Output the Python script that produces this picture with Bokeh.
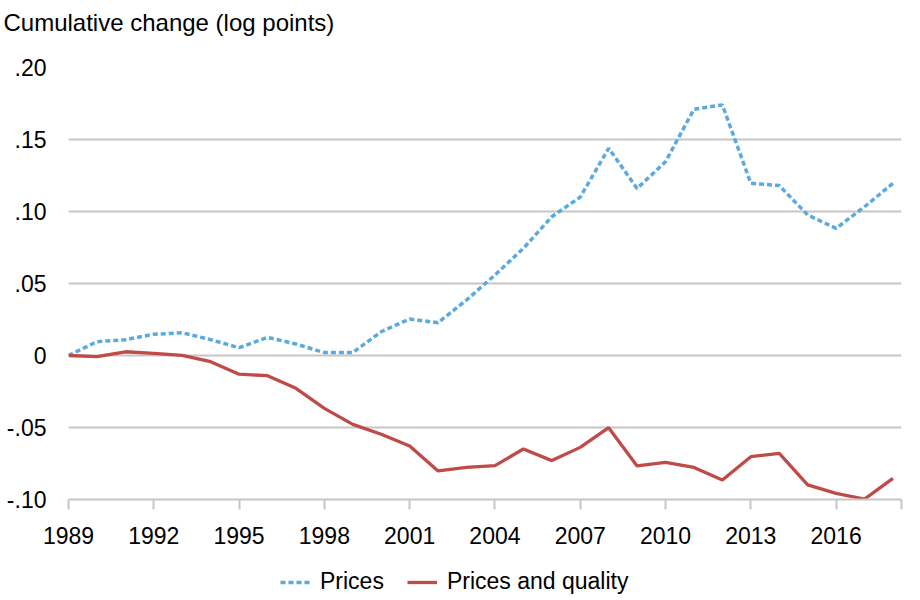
from bokeh.plotting import figure
from bokeh.layouts import column
from bokeh.models import FixedTicker, Legend, LegendItem, ColumnDataSource
from bokeh.embed import file_html
from bokeh.resources import INLINE

years = [1989, 1990, 1991, 1992, 1993, 1994, 1995, 1996, 1997, 1998,
         1999, 2000, 2001, 2002, 2003, 2004, 2005, 2006, 2007, 2008,
         2009, 2010, 2011, 2012, 2013, 2014, 2015, 2016, 2017, 2018]
prices = [0.0, 0.0096, 0.0110, 0.0147, 0.0158, 0.0110, 0.0054, 0.0126, 0.0080, 0.0020,
          0.0020, 0.0165, 0.0253, 0.0228, 0.0385, 0.0559, 0.0744, 0.0964, 0.1100, 0.1439,
          0.1160, 0.1346, 0.1710, 0.1740, 0.1196, 0.1180, 0.0976, 0.0883, 0.1033, 0.1196]
prices_quality = [0.0, -0.0008, 0.0026, 0.0015, 0.0001, -0.0043, -0.0130, -0.0140, -0.0228, -0.0367,
                  -0.0478, -0.0547, -0.0628, -0.0802, -0.0777, -0.0765, -0.0649, -0.0730, -0.0638, -0.0501,
                  -0.0767, -0.0742, -0.0777, -0.0865, -0.0703, -0.0680, -0.0899, -0.0957, -0.0997, -0.0853]
y_ticks = [-0.10, -0.05, 0.0, 0.05, 0.10, 0.15, 0.20]
y_labels = ["-.10", "-.05", "0", ".05", ".10", ".15", ".20"]
x_ticks = [1989, 1992, 1995, 1998, 2001, 2004, 2007, 2010, 2013, 2016]
x_end = 2018.3
series_names = ["Prices", "Prices and quality"]

FONT = "Liberation Sans"
BLUE = "#5AAAE0"
RED = "#BE4B48"
GRID = "#C6C6C6"

src = ColumnDataSource(data=dict(year=years, p=prices, pq=prices_quality))

p = figure(frame_width=833, frame_height=432, output_backend="svg", toolbar_location=None,
           x_range=(1989, x_end), y_range=(-0.10, 0.20),
           min_border_left=68, min_border_right=19, min_border_top=67, min_border_bottom=64,
           title="Cumulative change (log points)\n")
p.outline_line_color = None
p.background_fill_color = "white"
p.border_fill_color = "white"

p.title.text_font = FONT
p.title.text_font_size = "24px"
p.title.text_font_style = "normal"
p.title.text_color = "#000000"
p.title.align = "left"
p.title.offset = -65
p.title.standoff = 10

p.line("year", "p", source=src, line_color=BLUE, line_width=3.5, line_dash="5 3")
p.line("year", "pq", source=src, line_color=RED, line_width=3.3)

# y axis
p.yaxis.ticker = FixedTicker(ticks=y_ticks)
p.yaxis.major_label_overrides = {t: l for t, l in zip(y_ticks, y_labels)}
p.yaxis.axis_label = None
p.yaxis.axis_line_color = None
p.yaxis.major_tick_line_color = None
p.yaxis.major_tick_out = 0
p.yaxis.major_tick_in = 0
p.yaxis.minor_tick_line_color = None
p.yaxis.major_label_text_font = FONT
p.yaxis.major_label_text_font_size = "23px"
p.yaxis.major_label_text_color = "#000000"
p.yaxis.major_label_standoff = 22

# x axis
p.xaxis.ticker = FixedTicker(ticks=x_ticks + [x_end])
p.xaxis.major_label_overrides = {**{t: str(t) for t in x_ticks}, x_end: ""}
p.xaxis.axis_label = None
p.xaxis.axis_line_color = GRID
p.xaxis.axis_line_width = 2
p.xaxis.major_tick_line_color = GRID
p.xaxis.major_tick_line_width = 2
p.xaxis.major_tick_in = 0
p.xaxis.major_tick_out = 10
p.xaxis.minor_tick_line_color = None
p.xaxis.major_label_text_font = FONT
p.xaxis.major_label_text_font_size = "23px"
p.xaxis.major_label_text_color = "#000000"
p.xaxis.major_label_standoff = 17

p.xgrid.grid_line_color = None
p.ygrid.ticker = FixedTicker(ticks=y_ticks)
p.ygrid.grid_line_color = GRID
p.ygrid.grid_line_width = 2

# legend strip below the chart; its lines use the same data but lie outside its view
lg = figure(width=920, height=37, output_backend="svg", toolbar_location=None,
            min_border=0, x_axis_type=None, y_axis_type=None,
            x_range=(0, 1), y_range=(0, 1))
lg.outline_line_color = None
lg.grid.grid_line_color = None
lg.background_fill_color = "white"
lg.border_fill_color = "white"
s1 = lg.line("year", "p", source=src, line_color=BLUE, line_width=3.5, line_dash="5 3")
s2 = lg.line("year", "pq", source=src, line_color=RED, line_width=3.3)

legend = Legend(items=[LegendItem(label=series_names[0], renderers=[s1]),
                       LegendItem(label=series_names[1], renderers=[s2])],
                orientation="horizontal", location=(212, 5))
legend.label_text_font = FONT
legend.label_text_font_size = "23px"
legend.label_text_color = "#000000"
legend.glyph_width = 30
legend.glyph_height = 20
legend.label_standoff = 10
legend.spacing = 23
legend.padding = 0
legend.margin = 0
legend.border_line_color = None
legend.background_fill_alpha = 0
lg.add_layout(legend, "center")

layout = column(p, lg, spacing=0)
open("out.html", "w").write(file_html(layout, INLINE))
